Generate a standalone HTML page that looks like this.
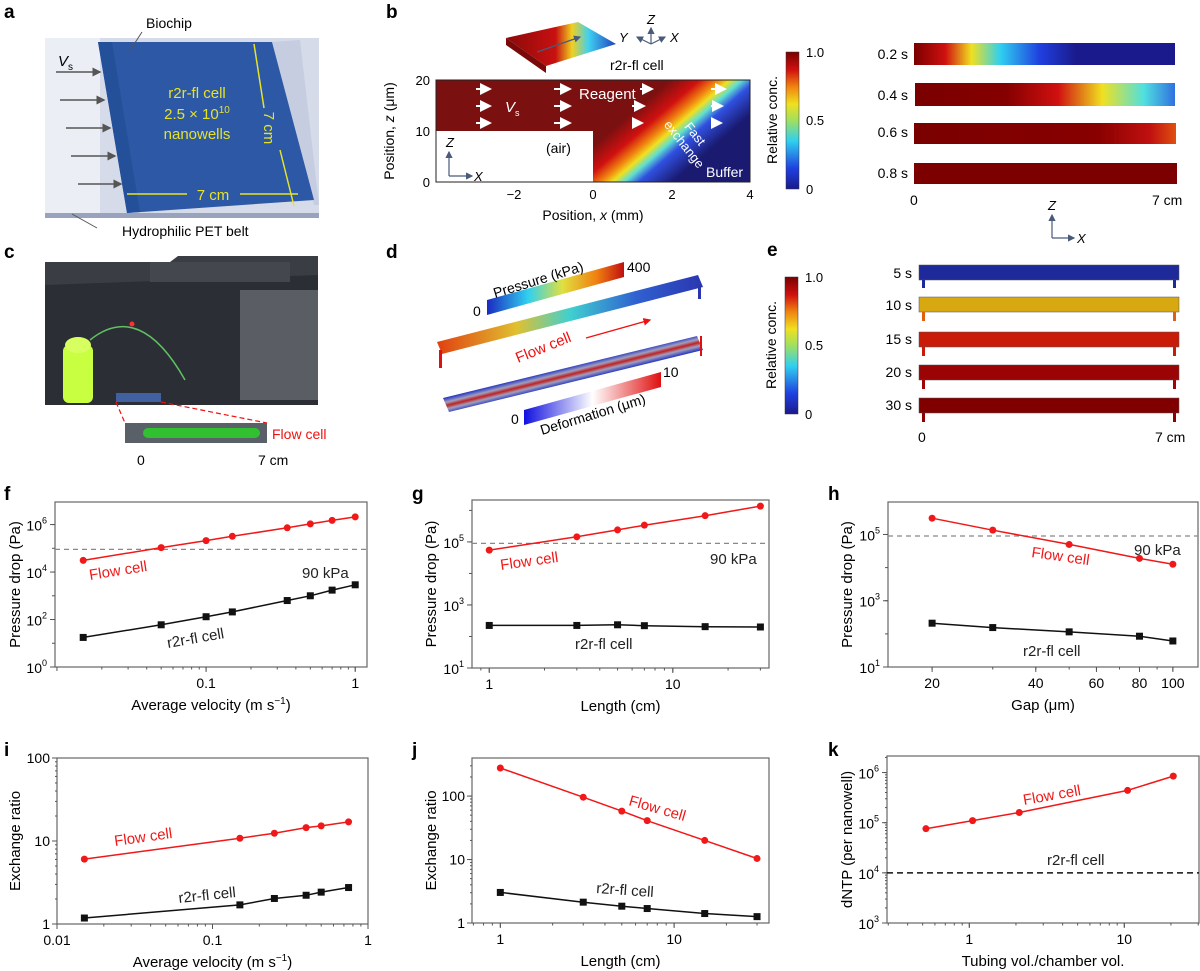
<!DOCTYPE html>
<html><head><meta charset="utf-8"><style>
html,body{margin:0;padding:0;background:#fff}
svg{display:block;font-family:"Liberation Sans",sans-serif}
</style></head><body>
<svg id="fig" width="1200" height="971" viewBox="0 0 1200 971" xmlns="http://www.w3.org/2000/svg">
<defs>
<linearGradient id="jet" x1="0" y1="1" x2="0" y2="0">
<stop offset="0" stop-color="#1a1a8c"/><stop offset="0.15" stop-color="#2040e0"/><stop offset="0.35" stop-color="#30d0f0"/><stop offset="0.5" stop-color="#a0e060"/><stop offset="0.62" stop-color="#f0e020"/><stop offset="0.75" stop-color="#f08010"/><stop offset="0.87" stop-color="#d01010"/><stop offset="1" stop-color="#7a0000"/>
</linearGradient>
<linearGradient id="bheat" gradientUnits="userSpaceOnUse" x1="645" y1="101" x2="697" y2="161">
<stop offset="0" stop-color="#7a1010"/><stop offset="0.25" stop-color="#d01010"/><stop offset="0.4" stop-color="#f08010"/><stop offset="0.5" stop-color="#f0e020"/><stop offset="0.6" stop-color="#60e0d0"/><stop offset="0.72" stop-color="#3050e0"/><stop offset="1" stop-color="#1a1a70"/>
</linearGradient>
<linearGradient id="chip3d" x1="0" y1="0" x2="1" y2="0">
<stop offset="0" stop-color="#8a0a0a"/><stop offset="0.45" stop-color="#c81010"/><stop offset="0.6" stop-color="#f0d020"/><stop offset="0.75" stop-color="#40d0f0"/><stop offset="1" stop-color="#2040c0"/>
</linearGradient>
<linearGradient id="t02" x1="0" y1="0" x2="1" y2="0">
<stop offset="0" stop-color="#7a0000"/><stop offset="0.12" stop-color="#d01010"/><stop offset="0.22" stop-color="#f0e020"/><stop offset="0.33" stop-color="#30d0f0"/><stop offset="0.48" stop-color="#2040e0"/><stop offset="0.62" stop-color="#1a1a8c"/><stop offset="1" stop-color="#1a1a8c"/>
</linearGradient>
<linearGradient id="t04" x1="0" y1="0" x2="1" y2="0">
<stop offset="0" stop-color="#7a0000"/><stop offset="0.35" stop-color="#850000"/><stop offset="0.55" stop-color="#d01010"/><stop offset="0.72" stop-color="#f0e020"/><stop offset="0.88" stop-color="#50e0e0"/><stop offset="1" stop-color="#3070e0"/>
</linearGradient>
<linearGradient id="t06" x1="0" y1="0" x2="1" y2="0">
<stop offset="0" stop-color="#7a0000"/><stop offset="0.7" stop-color="#880000"/><stop offset="0.9" stop-color="#c01010"/><stop offset="1" stop-color="#e05010"/>
</linearGradient>
<linearGradient id="pres" x1="0" y1="0" x2="1" y2="0">
<stop offset="0" stop-color="#1a2ac0"/><stop offset="0.3" stop-color="#30d0f0"/><stop offset="0.55" stop-color="#e0e040"/><stop offset="0.8" stop-color="#f08010"/><stop offset="1" stop-color="#c01010"/>
</linearGradient>
<linearGradient id="tube1" x1="0" y1="0" x2="1" y2="0">
<stop offset="0" stop-color="#e04010"/><stop offset="0.3" stop-color="#e0c030"/><stop offset="0.5" stop-color="#40d0d0"/><stop offset="0.75" stop-color="#3060d0"/><stop offset="1" stop-color="#2a36b0"/>
</linearGradient>
<linearGradient id="defo" x1="0" y1="0" x2="1" y2="0">
<stop offset="0" stop-color="#1010e0"/><stop offset="0.5" stop-color="#ffffff"/><stop offset="1" stop-color="#e01010"/>
</linearGradient>
<linearGradient id="tube2" gradientUnits="userSpaceOnUse" x1="571" y1="366" x2="575" y2="382">
<stop offset="0" stop-color="#2030c0"/><stop offset="0.3" stop-color="#a0a0c0"/><stop offset="0.5" stop-color="#c02020"/><stop offset="0.7" stop-color="#a0a0c0"/><stop offset="1" stop-color="#2030c0"/>
</linearGradient>
<marker id="arrW" markerWidth="6" markerHeight="6" refX="5" refY="3" orient="auto"><path d="M0,0 L6,3 L0,6 z" fill="#fff"/></marker>
<marker id="arrG" markerWidth="6" markerHeight="6" refX="5" refY="3" orient="auto"><path d="M0,0 L6,3 L0,6 z" fill="#555"/></marker>
<marker id="arrB" markerWidth="6" markerHeight="6" refX="5" refY="3" orient="auto"><path d="M0,0 L6,3 L0,6 z" fill="#4a5a7a"/></marker>
<marker id="arrR" markerWidth="6" markerHeight="6" refX="5" refY="3" orient="auto"><path d="M0,0 L6,3 L0,6 z" fill="#f01010"/></marker>
</defs>

<g font-weight="bold" font-size="19" fill="#000">
<text x="4" y="18">a</text>
<text x="386" y="18">b</text>
<text x="4" y="258">c</text>
<text x="386" y="258">d</text>
<text x="767" y="256">e</text>
<text x="4" y="500">f</text>
<text x="412" y="500">g</text>
<text x="828" y="500">h</text>
<text x="4" y="756">i</text>
<text x="412" y="756">j</text>
<text x="828" y="756">k</text>
</g>

<g>
<rect x="45" y="38" width="274" height="180" fill="#d6dbea"/>
<rect x="45" y="38" width="55" height="175" fill="#eceef6"/>
<polygon points="272,42 300,40 319,205 314,205" fill="#c6cde0"/>
<polygon points="98,42 272,42 314,200 127,213" fill="#2c58a6"/>
<polygon points="98,42 112,42 140,212 127,213" fill="#24509a"/>
<rect x="45" y="213" width="274" height="5" fill="#9aa3bd"/>
<g stroke="#555" stroke-width="1.5" marker-end="url(#arrG)">
<line x1="56" y1="72" x2="100" y2="72"/><line x1="60" y1="100" x2="104" y2="100"/><line x1="66" y1="128" x2="110" y2="128"/><line x1="71" y1="156" x2="115" y2="156"/><line x1="78" y1="184" x2="121" y2="184"/>
</g>
<text x="58" y="66" font-size="15" font-style="italic">V<tspan font-size="10" dy="4" font-style="normal">s</tspan></text>
<text x="146" y="28" font-size="14">Biochip</text>
<line x1="142" y1="32" x2="129" y2="52" stroke="#555" stroke-width="1"/>
<g fill="#e6e22a" font-size="15" text-anchor="middle">
<text x="197" y="98">r2r-fl cell</text>
<text x="197" y="119">2.5 × 10<tspan font-size="10" dy="-6">10</tspan></text>
<text x="197" y="139">nanowells</text>
<text x="0" y="0" transform="translate(264,128) rotate(90)">7 cm</text>
<text x="213" y="200">7 cm</text>
</g>
<g stroke="#e6e22a" stroke-width="1.5">
<line x1="254" y1="44" x2="264" y2="108"/><line x1="280" y1="150" x2="294" y2="206"/>
<line x1="127" y1="194" x2="187" y2="194"/><line x1="240" y1="194" x2="298" y2="194"/>
</g>
<text x="122" y="236" font-size="14">Hydrophilic PET belt</text>
<line x1="72" y1="214" x2="97" y2="228" stroke="#555" stroke-width="1"/>
</g>

<g>
<polygon points="506,38 578,22 616,44 546,66" fill="url(#chip3d)"/>
<polygon points="506,38 546,66 546,73 506,45" fill="#7a0a0a"/>
<line x1="537" y1="52" x2="580" y2="37" stroke="#4a5a7a" stroke-width="1.2" marker-end="url(#arrB)"/>
<g stroke="#4a5a7a" stroke-width="1.2" marker-end="url(#arrB)">
<line x1="651" y1="44" x2="651" y2="28"/><line x1="651" y1="44" x2="637" y2="37"/><line x1="651" y1="44" x2="665" y2="37"/>
</g>
<g font-size="13" font-style="italic"><text x="647" y="24">Z</text><text x="619" y="42">Y</text><text x="670" y="42">X</text></g>
<text x="610" y="70" font-size="14">r2r-fl cell</text>
<rect x="436" y="80" width="314" height="102" fill="url(#bheat)"/>
<rect x="436" y="131" width="157" height="51" fill="#fff"/>
<rect x="436" y="80" width="314" height="102" fill="none" stroke="#222" stroke-width="1"/>
<text x="546" y="153" font-size="14">(air)</text>
<g stroke="#4a5a7a" stroke-width="1.2" marker-end="url(#arrB)"><line x1="449" y1="176" x2="449" y2="152"/><line x1="449" y1="176" x2="472" y2="176"/></g>
<g font-size="13" font-style="italic"><text x="446" y="147">Z</text><text x="474" y="181">X</text></g>
<g stroke="#fff" stroke-width="2" marker-end="url(#arrW)">
<line x1="476" y1="89" x2="490" y2="89"/><line x1="476" y1="106" x2="490" y2="106"/><line x1="476" y1="123" x2="490" y2="123"/>
<line x1="554" y1="89" x2="570" y2="89"/><line x1="554" y1="106" x2="570" y2="106"/><line x1="554" y1="123" x2="570" y2="123"/>
<line x1="640" y1="89" x2="652" y2="89"/><line x1="632" y1="106" x2="644" y2="106"/><line x1="632" y1="123" x2="642" y2="123"/>
<line x1="711" y1="89" x2="725" y2="89"/><line x1="711" y1="106" x2="722" y2="106"/><line x1="715" y1="123" x2="721" y2="123"/>
</g>
<text x="579" y="99" font-size="15" fill="#fff">Reagent</text>
<text x="505" y="112" font-size="15" fill="#fff" font-style="italic">V<tspan font-size="9" dy="4" font-style="normal">s</tspan></text>
<text x="0" y="0" transform="translate(672,118) rotate(52)" font-size="13" fill="#fff"><tspan x="14" y="-4">Fast</tspan><tspan x="0" y="11">exchange</tspan></text>
<text x="706" y="177" font-size="14" fill="#fff">Buffer</text>
<g font-size="13" text-anchor="end"><text x="430" y="85">20</text><text x="430" y="136">10</text><text x="430" y="187">0</text></g>
<g font-size="13" text-anchor="middle"><text x="514" y="199">−2</text><text x="593" y="199">0</text><text x="672" y="199">2</text><text x="750" y="199">4</text></g>
<text x="593" y="220" font-size="14" text-anchor="middle">Position, <tspan font-style="italic">x</tspan> (mm)</text>
<text transform="translate(394,131) rotate(-90)" font-size="14" text-anchor="middle">Position, <tspan font-style="italic">z</tspan> (μm)</text>
<rect x="786" y="52" width="13" height="137" fill="url(#jet)" stroke="#333" stroke-width="0.5"/>
<g font-size="13"><text x="806" y="57">1.0</text><text x="806" y="125">0.5</text><text x="806" y="194">0</text></g>
<text transform="translate(777,120) rotate(-90)" font-size="14" text-anchor="middle">Relative conc.</text>
<g>
<rect x="914" y="43" width="261" height="22" fill="url(#t02)"/>
<rect x="915" y="83" width="260" height="23" fill="url(#t04)"/>
<rect x="914" y="123" width="262" height="21" fill="url(#t06)"/>
<rect x="914" y="163" width="263" height="21" fill="#7c0000"/>
</g>
<g font-size="14" text-anchor="end"><text x="908" y="59">0.2 s</text><text x="908" y="100">0.4 s</text><text x="908" y="137">0.6 s</text><text x="908" y="178">0.8 s</text></g>
<text x="910" y="205" font-size="14">0</text>
<text x="1152" y="205" font-size="14">7 cm</text>
<g stroke="#4a5a7a" stroke-width="1.2" marker-end="url(#arrB)"><line x1="1052" y1="238" x2="1052" y2="215"/><line x1="1052" y1="238" x2="1074" y2="238"/></g>
<g font-size="13" font-style="italic"><text x="1048" y="210">Z</text><text x="1077" y="243">X</text></g>
</g>

<g>
<rect x="45" y="262" width="273" height="143" fill="#2b2e34"/>
<polygon points="45,262 170,262 178,256 318,256 318,275 45,285" fill="#3a3d44"/>
<rect x="150" y="262" width="140" height="20" fill="#44474e"/>
<rect x="240" y="290" width="78" height="110" fill="#5a5d63"/>
<rect x="63" y="345" width="30" height="58" rx="6" fill="#c8ff40"/>
<ellipse cx="78" cy="345" rx="13" ry="8" fill="#d8ff60"/>
<path d="M90,340 Q140,300 185,380" fill="none" stroke="#60c060" stroke-width="1.5"/>
<circle cx="132" cy="324" r="2.5" fill="#ff3030"/>
<rect x="116" y="393" width="45" height="9" fill="#4060a0"/>
<line x1="116" y1="402" x2="125" y2="423" stroke="#f01010" stroke-width="1.2" stroke-dasharray="5,3"/>
<line x1="161" y1="402" x2="267" y2="423" stroke="#f01010" stroke-width="1.2" stroke-dasharray="5,3"/>
<rect x="125" y="423" width="142" height="20" fill="#5a6068"/>
<rect x="143" y="428" width="117" height="10" rx="5" fill="#30c030"/>
<text x="272" y="439" font-size="14" fill="#f01010">Flow cell</text>
<text x="137" y="465" font-size="14">0</text>
<text x="258" y="465" font-size="14">7 cm</text>
</g>

<g>
<polygon points="437,342 698,275 703,287 442,354" fill="url(#tube1)"/>
<rect x="439" y="350" width="3" height="18" fill="#e01010"/>
<rect x="698" y="285" width="3" height="14" fill="#2a36b0"/>
<polygon points="487,300 624,262 624,277 487,315" fill="url(#pres)"/>
<text transform="translate(495,298) rotate(-17)" font-size="14">Pressure (kPa)</text>
<text x="473" y="316" font-size="14">0</text>
<text x="627" y="272" font-size="14">400</text>
<polygon points="443,398 697,336 703,350 449,412" fill="url(#tube2)"/>
<rect x="700" y="336" width="2" height="20" fill="#e01010"/>
<polygon points="524,410 661,372 661,387 524,425" fill="url(#defo)"/>
<text x="511" y="424" font-size="14">0</text>
<text x="663" y="377" font-size="14">10</text>
<text transform="translate(542,435) rotate(-17)" font-size="14">Deformation (μm)</text>
<text transform="translate(518,363) rotate(-22)" font-size="15" fill="#f01010">Flow cell</text>
<line x1="586" y1="338" x2="650" y2="320" stroke="#f01010" stroke-width="1.3" marker-end="url(#arrR)"/>
</g>

<g>
<rect x="785" y="277" width="13" height="137" fill="url(#jet)" stroke="#333" stroke-width="0.5"/>
<g font-size="13"><text x="805" y="282">1.0</text><text x="805" y="350">0.5</text><text x="805" y="419">0</text></g>
<text transform="translate(776,345) rotate(-90)" font-size="14" text-anchor="middle">Relative conc.</text>
<g>
<rect x="919" y="265" width="260" height="15" fill="#1e2a9a" stroke="#555" stroke-width="0.5"/>
<rect x="919" y="297" width="260" height="15" fill="#d8a810" stroke="#555" stroke-width="0.5"/>
<rect x="919" y="332" width="260" height="15" fill="#c81c08" stroke="#555" stroke-width="0.5"/>
<rect x="919" y="365" width="260" height="15" fill="#9a0404" stroke="#555" stroke-width="0.5"/>
<rect x="919" y="398" width="260" height="15" fill="#800000" stroke="#555" stroke-width="0.5"/>
<g fill="#1e2a9a"><rect x="922" y="280" width="3" height="8"/><rect x="1173" y="280" width="3" height="8"/></g>
<g fill="#e06010"><rect x="922" y="312" width="3" height="9"/><rect x="1173" y="312" width="3" height="9"/></g>
<g fill="#c81c08"><rect x="922" y="347" width="3" height="9"/><rect x="1173" y="347" width="3" height="9"/></g>
<g fill="#a00404"><rect x="922" y="380" width="3" height="9"/><rect x="1173" y="380" width="3" height="9"/></g>
<g fill="#900000"><rect x="922" y="413" width="3" height="9"/><rect x="1173" y="413" width="3" height="9"/></g>
</g>
<g font-size="14" text-anchor="end"><text x="912" y="278">5 s</text><text x="912" y="310">10 s</text><text x="912" y="344">15 s</text><text x="912" y="377">20 s</text><text x="912" y="410">30 s</text></g>
<text x="918" y="442" font-size="14">0</text>
<text x="1155" y="442" font-size="14">7 cm</text>
</g>

<g id="charts"></g>
</svg>
<script>
const fVel=[0.015,0.05,0.1,0.15,0.35,0.5,0.7,1];
const fFlow=[3.1e4,1.07e5,2.1e5,3.2e5,7.3e5,1.07e6,1.5e6,2.1e6];
const fR2r=[17.6,60,131,209,630,1000,1730,2900];
const gLen=[1,3,5,7,15,30];
const gFlow=[5.5e4,1.45e5,2.4e5,3.4e5,6.8e5,1.37e6];
const gR2r=[224,224,235,220,205,200];
const hGap=[20,30,50,80,100];
const hFlow=[3.1e5,1.35e5,5e4,1.9e4,1.26e4];
const hR2r=[210,155,115,85,61];
const iVel=[0.015,0.15,0.25,0.4,0.5,0.75];
const iFlow=[6.05,10.8,12.4,14.5,15.2,17];
const iR2r=[1.18,1.7,2.03,2.22,2.42,2.75];
const jLen=[1,3,5,7,15,30];
const jFlow=[277,96,58,41,20,10.4];
const jR2r=[3.03,2.13,1.84,1.69,1.41,1.26];
const kRatio=[0.525,1.05,2.1,10.5,20.7];
const kFlow=[7.6e4,1.1e5,1.6e5,4.4e5,8.5e5];
const pressureLimit=[9e4];
const kR2rLevel=[1e4];
const fXTicks=[0.1,1];
const fXTickLabels=['0.1','1'];
const pYTickExpF=[0,2,4,6];
const pYTickExpGH=[1,3,5];
const gXTicks=[1,10];
const gXTickLabels=['1','10'];
const hXTicks=[20,40,60,80,100];
const hXTickLabels=['20','40','60','80','100'];
const iXTicks=[0.01,0.1,1];
const iXTickLabels=['0.01','0.1','1'];
const iYTicks=[1,10,100];
const iYTickLabels=['1','10','100'];
const kYTickExp=[3,4,5,6];
const kXTicks=[1,10];
const kXTickLabels=['1','10'];

const NS='http://www.w3.org/2000/svg';
const root=document.getElementById('charts');
function mk(parent,tag,attrs,text){const e=document.createElementNS(NS,tag);for(const k in attrs)e.setAttribute(k,attrs[k]);if(text!=null)e.textContent=text;parent.appendChild(e);return e;}
function scales(c){return{
 sx:v=>c.x0+(Math.log10(v)-c.lx0)/(c.lx1-c.lx0)*(c.x1-c.x0),
 sy:v=>c.y1-(Math.log10(v)-c.ly0)/(c.ly1-c.ly0)*(c.y1-c.y0)};}

function chart(c){
 const g=mk(root,'g',{});
 
 
 const s=scales(c);
 const fr=mk(g,'rect',{x:c.x0,y:c.y0,width:c.x1-c.x0,height:c.y1-c.y0,fill:'none',stroke:'#666','stroke-width':1.2});
 
 
 for(let d=Math.floor(c.ly0)-1;d<=Math.ceil(c.ly1);d++){
  for(let m=1;m<10;m++){
   const v=m*Math.pow(10,d);const lv=Math.log10(v);
   if(lv<c.ly0-1e-6||lv>c.ly1+1e-6)continue;
   if(m>1&&!c.yMinor29)continue;
   const y=s.sy(v);
   const t=mk(g,'line',{x1:c.x0,x2:c.x0-(m===1?3:2),y1:y,y2:y,stroke:'#555','stroke-width':1});
   
   
  }
 }
 for(let d=Math.floor(c.lx0)-1;d<=Math.ceil(c.lx1);d++){
  for(let m=1;m<10;m++){
   const v=m*Math.pow(10,d);const lv=Math.log10(v);
   if(lv<c.lx0-1e-6||lv>c.lx1+1e-6)continue;
   const x=s.sx(v);
   const t=mk(g,'line',{x1:x,x2:x,y1:c.y1,y2:c.y1+(m===1?4:2.5),stroke:'#555','stroke-width':1});
   
   
  }
 }
 if(c.yExp){c.yExp.forEach(e=>{
  const y=s.sy(Math.pow(10,e));
  const tk=mk(g,'line',{x1:c.x0,x2:c.x0-5,y1:y,y2:y,stroke:'#555','stroke-width':1});
  
  
  const t=mk(g,'text',{x:c.x0-8,y:y+6,'font-size':14,'text-anchor':'end'});
  
  
  t.appendChild(document.createTextNode('10'));
  const sp=mk(t,'tspan',{'font-size':9,dy:-7},String(e));
  
  
 });}
 if(c.yTicks){c.yTicks.forEach((v,i)=>{
  const y=s.sy(v);
  const tk=mk(g,'line',{x1:c.x0,x2:c.x0-5,y1:y,y2:y,stroke:'#555','stroke-width':1});
  
  
  const t=mk(g,'text',{x:c.x0-7,y:y+5,'font-size':14,'text-anchor':'end'},c.yTickLabels[i]);
  
  
 });}
 c.xTicks.forEach((v,i)=>{
  const x=s.sx(v);
  const tk=mk(g,'line',{x1:x,x2:x,y1:c.y1,y2:c.y1+5,stroke:'#555','stroke-width':1});
  
  
  const t=mk(g,'text',{x:x,y:c.y1+21,'font-size':14,'text-anchor':'middle'},c.xTickLabels[i]);
  
  
 });
 const xt=mk(g,'text',{x:(c.x0+c.x1)/2,y:c.y1+43,'font-size':15,'text-anchor':'middle'});
 
 
 xt.innerHTML=c.xTitle;
 const yt=mk(g,'text',{transform:`translate(${c.yTitleX},${(c.y0+c.y1)/2}) rotate(-90)`,'font-size':15,'text-anchor':'middle'},c.yTitle);
 
 
 (c.hlines||[]).forEach(h=>{
  const y=s.sy(h.v);
  const l=mk(g,'line',{x1:c.x0,x2:c.x1,y1:y,y2:y,stroke:h.color,'stroke-width':h.w,'stroke-dasharray':h.dash});
  
  
 });
 c.series.forEach(sr=>{
  const pts=sr.x.map((xv,i)=>s.sx(xv).toFixed(1)+','+s.sy(sr.y[i]).toFixed(1)).join(' ');
  const pl=mk(g,'polyline',{points:pts,fill:'none',stroke:sr.color,'stroke-width':1.5});
  
  
  sr.x.forEach((xv,i)=>{
   const px=s.sx(xv),py=s.sy(sr.y[i]);
   let m;
   if(sr.marker==='circle'){m=mk(g,'circle',{cx:px,cy:py,r:3.5,fill:sr.color});}
   else{m=mk(g,'rect',{x:px-3.5,y:py-3.5,width:7,height:7,fill:sr.color});}
   
   
  });
 });
 (c.labels||[]).forEach(lb=>{
  const t=mk(g,'text',{transform:`translate(${lb.x},${lb.y}) rotate(${lb.r})`,'font-size':15,fill:lb.color},lb.t);
  
  
 });
}

const velTitle='Average velocity (m s<tspan font-size="10" dy="-6">−1</tspan><tspan dy="6">)</tspan>';
const red='#f01818';
chart({name:'chart-f',x0:55,x1:367,y0:502,y1:667,lx0:-2.013,lx1:0.079,ly0:0,ly1:6.95,
 yExp:pYTickExpF,xTicks:fXTicks,xTickLabels:fXTickLabels,xTitle:velTitle,yTitle:'Pressure drop (Pa)',yTitleX:20,
 hlines:[{v:pressureLimit[0],color:'#888',w:1.3,dash:'5,4',name:'limit-90kpa'}],
 series:[{name:'flow-cell-f',x:fVel,y:fFlow,color:red,marker:'circle'},{name:'r2r-f',x:fVel,y:fR2r,color:'#111',marker:'square'}],
 labels:[{t:'Flow cell',x:90,y:580,r:-9,color:red,name:'flow-cell-label'},{t:'90 kPa',x:302,y:578,r:0,color:'#222',name:'limit-label'},{t:'r2r-fl cell',x:168,y:648,r:-10,color:'#222',name:'r2r-label'}]});
chart({name:'chart-g',x0:472,x1:769,y0:500,y1:668,lx0:-0.094,lx1:1.524,ly0:1,ly1:6.33,
 yExp:pYTickExpGH,xTicks:gXTicks,xTickLabels:gXTickLabels,xTitle:'Length (cm)',yTitle:'Pressure drop (Pa)',yTitleX:436,
 hlines:[{v:pressureLimit[0],color:'#888',w:1.3,dash:'5,4',name:'limit-90kpa'}],
 series:[{name:'flow-cell-g',x:gLen,y:gFlow,color:red,marker:'circle'},{name:'r2r-g',x:gLen,y:gR2r,color:'#111',marker:'square'}],
 labels:[{t:'Flow cell',x:501,y:570,r:-8,color:red,name:'flow-cell-label'},{t:'90 kPa',x:710,y:564,r:0,color:'#222',name:'limit-label'},{t:'r2r-fl cell',x:575,y:649,r:0,color:'#222',name:'r2r-label'}]});
chart({name:'chart-h',x0:888,x1:1198,y0:502,y1:667,lx0:1.173,lx1:2.073,ly0:1,ly1:5.98,
 yExp:pYTickExpGH,xTicks:hXTicks,xTickLabels:hXTickLabels,xTitle:'Gap (μm)',yTitle:'Pressure drop (Pa)',yTitleX:852,
 hlines:[{v:pressureLimit[0],color:'#888',w:1.3,dash:'5,4',name:'limit-90kpa'}],
 series:[{name:'flow-cell-h',x:hGap,y:hFlow,color:red,marker:'circle'},{name:'r2r-h',x:hGap,y:hR2r,color:'#111',marker:'square'}],
 labels:[{t:'Flow cell',x:1031,y:557,r:8,color:red,name:'flow-cell-label'},{t:'90 kPa',x:1134,y:555,r:0,color:'#222',name:'limit-label'},{t:'r2r-fl cell',x:1023,y:656,r:0,color:'#222',name:'r2r-label'}]});
chart({name:'chart-i',x0:57,x1:368,y0:758,y1:924,lx0:-2,lx1:0,ly0:0,ly1:2,yMinor29:true,
 yTicks:iYTicks,yTickLabels:iYTickLabels,xTicks:iXTicks,xTickLabels:iXTickLabels,xTitle:velTitle,yTitle:'Exchange ratio',yTitleX:20,
 series:[{name:'flow-cell-i',x:iVel,y:iFlow,color:red,marker:'circle'},{name:'r2r-i',x:iVel,y:iR2r,color:'#111',marker:'square'}],
 labels:[{t:'Flow cell',x:115,y:846,r:-8,color:red,name:'flow-cell-label'},{t:'r2r-fl cell',x:179,y:903,r:-6,color:'#222',name:'r2r-label'}]});
chart({name:'chart-j',x0:472,x1:769,y0:758,y1:923,lx0:-0.163,lx1:1.546,ly0:0,ly1:2.6,yMinor29:true,
 yTicks:iYTicks,yTickLabels:iYTickLabels,xTicks:gXTicks,xTickLabels:gXTickLabels,xTitle:'Length (cm)',yTitle:'Exchange ratio',yTitleX:436,
 series:[{name:'flow-cell-j',x:jLen,y:jFlow,color:red,marker:'circle'},{name:'r2r-j',x:jLen,y:jR2r,color:'#111',marker:'square'}],
 labels:[{t:'Flow cell',x:628,y:805,r:16,color:red,name:'flow-cell-label'},{t:'r2r-fl cell',x:596,y:893,r:4,color:'#222',name:'r2r-label'}]});
chart({name:'chart-k',x0:887,x1:1199,y0:756,y1:923,lx0:-0.531,lx1:1.482,ly0:3,ly1:6.33,yMinor29:true,
 yExp:kYTickExp,xTicks:kXTicks,xTickLabels:kXTickLabels,xTitle:'Tubing vol./chamber vol.',yTitle:'dNTP (per nanowell)',yTitleX:852,
 hlines:[{v:kR2rLevel[0],color:'#111',w:1.5,dash:'6,4',name:'r2r-level-line'}],
 series:[{name:'flow-cell-k',x:kRatio,y:kFlow,color:red,marker:'circle'}],
 labels:[{t:'Flow cell',x:1024,y:805,r:-10,color:red,name:'flow-cell-label'},{t:'r2r-fl cell',x:1047,y:865,r:0,color:'#222',name:'r2r-label'}]});
</script>
</body></html>
